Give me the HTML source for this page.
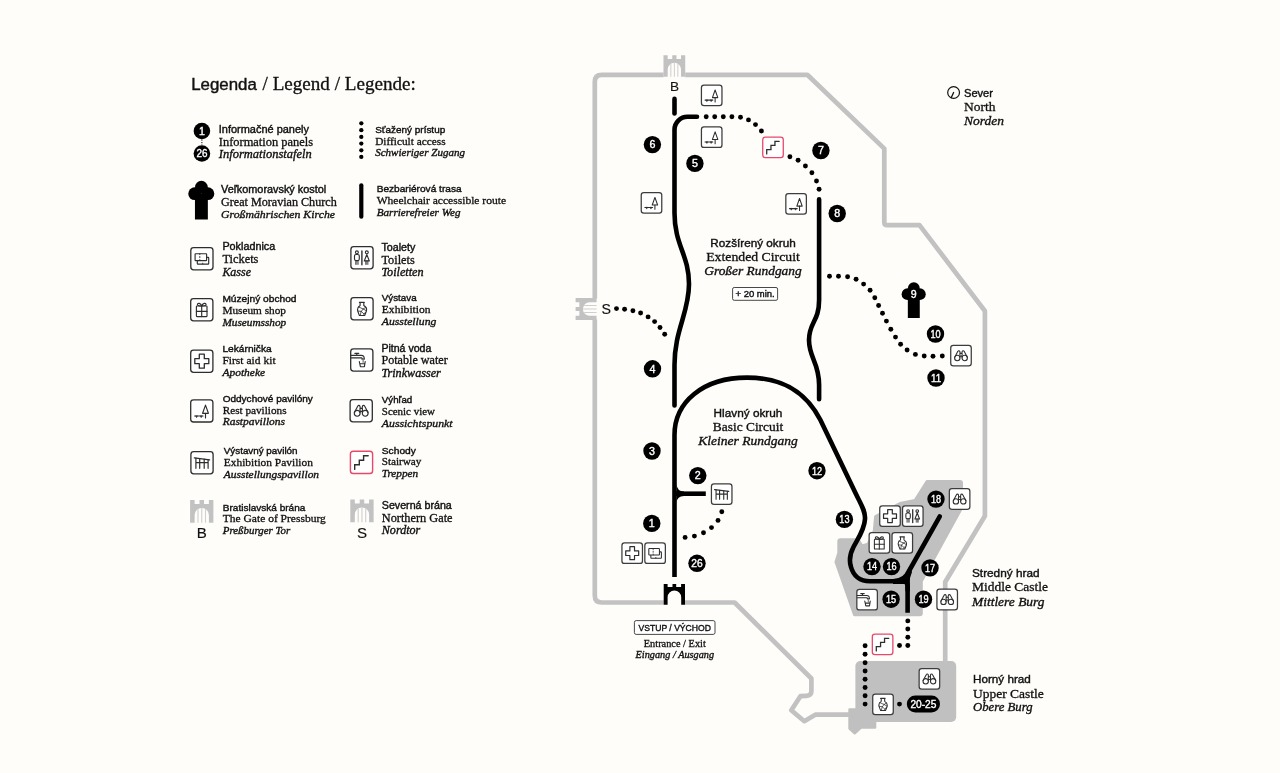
<!DOCTYPE html>
<html lang="sk"><head><meta charset="utf-8"><title>Mapa hradu – Legenda</title>
<style>
html,body{margin:0;padding:0;background:#fefdfa;}
body{width:1280px;height:773px;overflow:hidden;}
svg{display:block;will-change:transform;}
.sa{font-family:"Liberation Sans",Arial,sans-serif;fill:#111;stroke:#111;stroke-width:0.4px;paint-order:stroke;}
.se{font-family:"Liberation Serif","Times New Roman",serif;fill:#111;stroke:#111;stroke-width:0.3px;}
.it{font-style:italic;stroke-width:0.36px;}
.num{font-family:"Liberation Sans",Arial,sans-serif;fill:#fff;stroke:#fff;stroke-width:0.38px;text-anchor:middle;}
.route{fill:none;stroke:#000;stroke-width:4.6;stroke-linecap:round;stroke-linejoin:round;}
.wall{fill:none;stroke:#c2c2c2;stroke-width:4.7;stroke-linejoin:round;stroke-linecap:butt;}
.ic{fill:none;stroke:#2e2e2e;stroke-width:1.15;stroke-linecap:round;stroke-linejoin:round;}
.bx{fill:#fff;stroke:#2e2e2e;stroke-width:1.3;}
.bxm{fill:#fff;stroke:#3c3c3c;stroke-width:1.35;}
.bxr{fill:#fff;stroke:#e8486a;stroke-width:1.4;}
</style></head><body>
<svg width="1280" height="773" viewBox="0 0 1280 773">
<rect width="1280" height="773" fill="#fefdfa"/>
<defs>
<g id="box"><rect class="bx" x="-11.1" y="-11.1" width="22.2" height="22.2" rx="2.8"/></g>
<g id="boxm"><rect class="bxm" x="-11.1" y="-11.1" width="22.2" height="22.2" rx="2.8"/></g>
<g id="boxr"><rect class="bxr" x="-11.1" y="-11.1" width="22.2" height="22.2" rx="2.8"/></g>
<g id="i-tick" class="ic"><rect x="-4.6" y="-1.4" width="11.4" height="6.8" rx="0.6"/><rect x="-6.8" y="-5" width="11.5" height="6.9" rx="0.6" fill="#fff"/><path d="M-2.1,-5v1M-2.1,-2.2v1.2M-2.1,0.9v1M0.8,5.4v-0.9" stroke-width="0.9"/></g>
<g id="i-gift" class="ic"><rect x="-5.4" y="-3.8" width="10.6" height="10.6" rx="0.5"/><path d="M-0.1,-3.8V6.8M-5.4,1.6H5.2"/><path d="M-0.1,-3.8C-1,-6.9 -4.3,-7.2 -4.4,-5.2C-4.4,-3.9 -2,-3.8 -0.1,-3.8C1.8,-3.8 4.3,-3.9 4.3,-5.2C4.2,-7.2 0.8,-6.9 -0.1,-3.8Z"/></g>
<g id="i-aid" class="ic"><path stroke-width="1.3" d="M-2.5,-7H2.5V-2.5H7V2.5H2.5V7H-2.5V2.5H-7V-2.5H-2.5Z"/></g>
<g id="i-rest" class="ic"><path d="M3.7,-5.8L6.6,2.4H0.8Z"/><path d="M3.7,2.4V7"/><path d="M-7.2,5.1H1.2"/><path d="M-6,5.2L-5.2,6.8L-4.4,5.2Z M-1.4,5.2L-0.6,6.8L0.2,5.2Z" fill="#2e2e2e" stroke-width="0.6"/></g>
<g id="i-pav" class="ic"><path d="M-7.7,-4.9L7.6,-2.9" stroke-width="1.3"/><path d="M-6.1,-4.6V5.6M-2.3,-4.1V5.6M2.2,-3.5V5.6M6.1,-3V5.6M-6.1,0H6.1" stroke-width="1.2"/></g>
<g id="i-wc" class="ic"><path d="M-0.1,-6.9V6.9" stroke-width="1.4"/><circle cx="-5.1" cy="-5.5" r="1.45"/><rect x="-7.5" y="-3.3" width="4.8" height="6.1" rx="1.5"/><path d="M-6.3,2.8V6.6M-5.1,2.8V6.6M-3.9,2.8V6.6" stroke-width="0.8"/><circle cx="4.8" cy="-5.5" r="1.45"/><path d="M4.8,-3.3L7.3,3.1H2.3Z"/><path d="M3.7,3.1V6.6M4.8,3.1V6.6M5.9,3.1V6.6" stroke-width="0.8"/></g>
<g id="i-vase" class="ic"><path d="M-2.6,-6.4H2.3M-1.9,-6.4V-3.2C-3.8,-2 -4.6,-0.6 -4.5,1C-4.3,3.2 -3.3,4.6 -2.6,6.7H2.7C3.4,4.6 4.5,3.2 4.6,1C4.7,-0.6 3.9,-2 1.8,-3.2V-6.4"/><path d="M-3.6,-1.9L1.2,0.2L3.6,-1.4M1.2,0.2L-0.8,2.6L-4.1,2.2M-0.8,2.6L-1.8,6.6M-0.8,2.6L2,5.2L3.5,3.4M2,5.2L1.6,6.6M1.2,0.2L4.4,2" stroke-width="0.8"/></g>
<g id="i-water" class="ic"><path d="M-10.6,-4.6H-0.4C1.4,-4.6 2.4,-3.4 2.4,-1.6V-1"/><path d="M-10.6,-2.2H-0.2C0.2,-2.2 0.3,-1.8 0.3,-1"/><path d="M0.3,-1H2.4"/><path d="M-6.9,-6.6H-3.1M-5,-6.6V-4.6"/><path d="M1.3,0V2.4" stroke-width="0.8"/><path d="M-2.5,1.5L-1.4,6.7H2.6L3.4,1.5M-2,3.7H3"/></g>
<g id="i-bino" class="ic"><circle cx="-4" cy="2.6" r="2.9"/><circle cx="4" cy="2.6" r="2.9"/><path d="M-6.8,1.8L-3.4,-4.6C-3,-5.5 -1.6,-5.5 -1.3,-4.6L-0.9,-2.2M6.8,1.8L3.4,-4.6C3,-5.5 1.6,-5.5 1.3,-4.6L0.9,-2.2M-1.2,-2.4H1.2M-1.2,1.8V-2.4M1.2,1.8V-2.4M-1.2,0.6H1.2"/></g>
<g id="i-stairs" class="ic"><path d="M-6.8,7V2.3H-2.2V-2.1H2.1V-6.6H6.7" stroke-width="1.4" stroke-linejoin="miter"/></g>
<g id="gate"><path d="M0,0H4.5V4.1H9.4V0H13.9V4.1H18.8V0H23.3V22.8H18.8V15.1A7.15,7.15 0 0 0 4.5,15.1V22.8H0Z"/><path d="M7.9,9.3V22.8M11.65,8.2V22.8M15.4,9.3V22.8" fill="none" stroke-width="1.1" stroke="currentColor"/></g>
<g id="church"><rect x="-6.45" y="-26" width="12.9" height="26"/><circle cx="-6.75" cy="-25.8" r="6.4"/><circle cx="6.5" cy="-25.8" r="6.4"/><circle cx="0" cy="-32.3" r="6.4"/></g>
</defs>
<g id="legend">
<text x="191.2" y="89.7" class="sa" font-size="16.09" textLength="65.6" lengthAdjust="spacingAndGlyphs">Legenda</text>
<text x="262.6" y="89.7" class="se" font-size="18.23" textLength="153.2" lengthAdjust="spacingAndGlyphs">/ Legend / Legende:</text>
<path d="M201.9,139.5V145" stroke="#000" stroke-width="1" stroke-dasharray="1.2 1.3" fill="none"/>
<circle cx="201.9" cy="131" r="8.3" fill="#000"/><text class="num" x="201.9" y="134.8" font-size="10.6">1</text>
<circle cx="201.9" cy="153.5" r="8.3" fill="#000"/><text class="num" x="201.9" y="157.3" font-size="10.5" textLength="11" lengthAdjust="spacingAndGlyphs">26</text>
<text x="218.8" y="133.3" class="sa" font-size="10.47" textLength="90.2" lengthAdjust="spacingAndGlyphs">Informačné panely</text>
<text x="218.8" y="145.5" class="se" font-size="11.87" textLength="94.2" lengthAdjust="spacingAndGlyphs">Information panels</text>
<text x="218.8" y="157.9" class="se it" font-size="11.93" textLength="93.0" lengthAdjust="spacingAndGlyphs">Informationstafeln</text>
<use href="#church" x="201.4" y="219.5" fill="#000"/>
<text x="221.0" y="193.1" class="sa" font-size="10.37" textLength="105.2" lengthAdjust="spacingAndGlyphs">Veľkomoravský kostol</text>
<text x="221.0" y="205.7" class="se" font-size="11.57" textLength="115.7" lengthAdjust="spacingAndGlyphs">Great Moravian Church</text>
<text x="221.0" y="218.0" class="se it" font-size="11.25" textLength="114.0" lengthAdjust="spacingAndGlyphs">Großmährischen Kirche</text>
<circle cx="361.3" cy="123.3" r="2.15" fill="#000"/>
<circle cx="361.3" cy="130.2" r="2.15" fill="#000"/>
<circle cx="361.3" cy="136.9" r="2.15" fill="#000"/>
<circle cx="361.3" cy="143.6" r="2.15" fill="#000"/>
<circle cx="361.3" cy="150.3" r="2.15" fill="#000"/>
<circle cx="361.3" cy="156.9" r="2.15" fill="#000"/>
<text x="375.2" y="133.0" class="sa" font-size="9.49" textLength="70.0" lengthAdjust="spacingAndGlyphs">Sťažený prístup</text>
<text x="375.2" y="144.7" class="se" font-size="10.79" textLength="70.4" lengthAdjust="spacingAndGlyphs">Difficult access</text>
<text x="375.2" y="156.1" class="se it" font-size="10.54" textLength="89.8" lengthAdjust="spacingAndGlyphs">Schwieriger Zugang</text>
<path d="M361.3,185.3V216.7" stroke="#000" stroke-width="4.2" stroke-linecap="round" fill="none"/>
<text x="376.7" y="192.0" class="sa" font-size="9.66" textLength="84.9" lengthAdjust="spacingAndGlyphs">Bezbariérová trasa</text>
<text x="376.7" y="203.9" class="se" font-size="11.02" textLength="129.4" lengthAdjust="spacingAndGlyphs">Wheelchair accessible route</text>
<text x="376.7" y="215.5" class="se it" font-size="10.63" textLength="83.8" lengthAdjust="spacingAndGlyphs">Barrierefreier Weg</text>
<g transform="translate(201.9,258.7)"><use href="#box"/><use href="#i-tick"/></g>
<text x="222.4" y="250.2" class="sa" font-size="10.31" textLength="52.8" lengthAdjust="spacingAndGlyphs">Pokladnica</text>
<text x="222.4" y="263.0" class="se" font-size="11.82" textLength="36.0" lengthAdjust="spacingAndGlyphs">Tickets</text>
<text x="222.4" y="275.5" class="se it" font-size="11.43" textLength="28.6" lengthAdjust="spacingAndGlyphs">Kasse</text>
<g transform="translate(201.8,309.8)"><use href="#box"/><use href="#i-gift"/></g>
<text x="222.4" y="302.0" class="sa" font-size="9.72" textLength="74.1" lengthAdjust="spacingAndGlyphs">Múzejný obchod</text>
<text x="222.4" y="314.0" class="se" font-size="10.77" textLength="63.6" lengthAdjust="spacingAndGlyphs">Museum shop</text>
<text x="222.4" y="325.7" class="se it" font-size="10.75" textLength="63.8" lengthAdjust="spacingAndGlyphs">Museumsshop</text>
<g transform="translate(201.8,361.2)"><use href="#box"/><use href="#i-aid"/></g>
<text x="222.4" y="351.7" class="sa" font-size="9.74" textLength="49.3" lengthAdjust="spacingAndGlyphs">Lekárnička</text>
<text x="222.4" y="363.6" class="se" font-size="11.02" textLength="53.2" lengthAdjust="spacingAndGlyphs">First aid kit</text>
<text x="222.4" y="375.7" class="se it" font-size="10.96" textLength="42.7" lengthAdjust="spacingAndGlyphs">Apotheke</text>
<g transform="translate(201.8,410.9)"><use href="#box"/><use href="#i-rest"/></g>
<text x="222.7" y="402.0" class="sa" font-size="9.57" textLength="90.2" lengthAdjust="spacingAndGlyphs">Oddychové pavilóny</text>
<text x="222.7" y="413.7" class="se" font-size="10.7" textLength="63.8" lengthAdjust="spacingAndGlyphs">Rest pavilions</text>
<text x="222.7" y="425.1" class="se it" font-size="10.93" textLength="62.3" lengthAdjust="spacingAndGlyphs">Rastpavillons</text>
<g transform="translate(202.0,462.7)"><use href="#box"/><use href="#i-pav"/></g>
<text x="223.8" y="454.4" class="sa" font-size="9.38" textLength="73.7" lengthAdjust="spacingAndGlyphs">Výstavný pavilón</text>
<text x="223.8" y="466.2" class="se" font-size="10.9" textLength="89.1" lengthAdjust="spacingAndGlyphs">Exhibition Pavilion</text>
<text x="223.8" y="477.5" class="se it" font-size="10.92" textLength="95.3" lengthAdjust="spacingAndGlyphs">Ausstellungspavillon</text>
<use href="#gate" x="190.1" y="500" fill="#c2c2c2" color="#cfcfcf"/>
<text x="201.9" y="538.3" class="sa" font-size="15.1" text-anchor="middle" style="stroke-width:0.15px">B</text>
<text x="222.8" y="510.5" class="sa" font-size="9.58" textLength="82.5" lengthAdjust="spacingAndGlyphs">Bratislavská brána</text>
<text x="222.8" y="521.9" class="se" font-size="10.99" textLength="103.0" lengthAdjust="spacingAndGlyphs">The Gate of Pressburg</text>
<text x="222.8" y="534.0" class="se it" font-size="10.4" textLength="67.5" lengthAdjust="spacingAndGlyphs">Preßburger Tor</text>
<g transform="translate(362.0,257.8)"><use href="#box"/><use href="#i-wc"/></g>
<text x="381.4" y="251.3" class="sa" font-size="10.22" textLength="33.9" lengthAdjust="spacingAndGlyphs">Toalety</text>
<text x="381.4" y="263.8" class="se" font-size="11.78" textLength="33.4" lengthAdjust="spacingAndGlyphs">Toilets</text>
<text x="381.4" y="276.2" class="se it" font-size="11.64" textLength="42.2" lengthAdjust="spacingAndGlyphs">Toiletten</text>
<g transform="translate(362.0,308.8)"><use href="#box"/><use href="#i-vase"/></g>
<text x="381.8" y="301.1" class="sa" font-size="9.34" textLength="34.8" lengthAdjust="spacingAndGlyphs">Výstava</text>
<text x="381.8" y="313.2" class="se" font-size="11.04" textLength="48.8" lengthAdjust="spacingAndGlyphs">Exhibition</text>
<text x="381.8" y="324.6" class="se it" font-size="11.17" textLength="54.6" lengthAdjust="spacingAndGlyphs">Ausstellung</text>
<g transform="translate(361.8,360.0)"><use href="#box"/><use href="#i-water"/></g>
<text x="381.4" y="352.1" class="sa" font-size="10.11" textLength="50.0" lengthAdjust="spacingAndGlyphs">Pitná voda</text>
<text x="381.4" y="364.2" class="se" font-size="11.59" textLength="66.4" lengthAdjust="spacingAndGlyphs">Potable water</text>
<text x="381.4" y="376.8" class="se it" font-size="11.6" textLength="59.4" lengthAdjust="spacingAndGlyphs">Trinkwasser</text>
<g transform="translate(361.2,410.7)"><use href="#box"/><use href="#i-bino"/></g>
<text x="381.8" y="403.1" class="sa" font-size="9.28" textLength="30.4" lengthAdjust="spacingAndGlyphs">Výhľad</text>
<text x="381.8" y="414.8" class="se" font-size="10.45" textLength="53.2" lengthAdjust="spacingAndGlyphs">Scenic view</text>
<text x="381.8" y="426.6" class="se it" font-size="11.27" textLength="70.8" lengthAdjust="spacingAndGlyphs">Aussichtspunkt</text>
<g transform="translate(361.5,462.4)"><use href="#boxr"/><use href="#i-stairs"/></g>
<text x="381.8" y="453.7" class="sa" font-size="9.76" textLength="34.1" lengthAdjust="spacingAndGlyphs">Schody</text>
<text x="381.8" y="465.4" class="se" font-size="10.64" textLength="39.6" lengthAdjust="spacingAndGlyphs">Stairway</text>
<text x="381.8" y="476.8" class="se it" font-size="10.7" textLength="36.3" lengthAdjust="spacingAndGlyphs">Treppen</text>
<use href="#gate" x="350.3" y="499.5" fill="#c2c2c2" color="#cfcfcf"/>
<text x="362.0" y="537.6" class="sa" font-size="15.1" text-anchor="middle" style="stroke-width:0.15px">S</text>
<text x="381.8" y="509.4" class="sa" font-size="10.19" textLength="70.0" lengthAdjust="spacingAndGlyphs">Severná brána</text>
<text x="381.8" y="521.5" class="se" font-size="11.76" textLength="70.8" lengthAdjust="spacingAndGlyphs">Northern Gate</text>
<text x="381.8" y="534.0" class="se it" font-size="11.54" textLength="38.5" lengthAdjust="spacingAndGlyphs">Nordtor</text>
</g>
<g id="map">
<path fill="#c0c0c0" stroke="#c0c0c0" stroke-width="3" stroke-linejoin="round" d="M927,481.5H960Q961.5,481.5 961.5,483V508L921.3,581.4V613Q921.3,614.7 919.8,614.7H854.5L836,562L838.8,553V541.5Q838.8,539.8 840.5,539.8H858L862,546L868,544.3L874.3,531L875.6,516.5L900,503.5L915,500.5Z"/>
<rect x="855.4" y="661" width="100.8" height="61" rx="5" fill="#c0c0c0"/>
<path fill="#c0c0c0" stroke="#c0c0c0" stroke-width="2.4" stroke-linejoin="round" d="M849.5,709.4H875.1V727.5H861L854.7,733.3L849.5,728.6Z"/>
<path class="wall" d="M663.6,74.8H601.8Q594.8,74.8 594.8,81.8V298.5M594.8,319.5V595.5Q594.8,602.5 601.8,602.5H663.8M685,602.5H734.6L811.4,678.5V691Q811.4,695.6 806.5,695.8L800.4,696.2L791.3,710.2L804.3,721.2L815.3,714.7H849"/>
<path class="wall" d="M685.2,74.8H807.3L884.3,148.6V222.2Q884.3,225.2 887.3,225.2H919.5L984.9,311V516L945.2,582V662"/>
<g transform="translate(663.5,55.2) scale(0.932,0.947)"><use href="#gate" fill="#c2c2c2" color="#cfcfcf"/></g>
<g transform="translate(575.6,319.9) rotate(-90) scale(0.935,0.92)"><use href="#gate" fill="#c2c2c2" color="#cfcfcf"/></g>
<path fill="#000" d="M663.7,583.9H667.6V587.1H672.5V583.9H676.2V587.1H681.1V583.9H685V604.8H681.2V597.2A6.8,6.8 0 0 0 667.6,597.2V604.8H663.7Z"/>
<text x="674.5" y="91.2" class="sa" font-size="13.6" text-anchor="middle" style="stroke-width:0.15px">B</text>
<text x="606.2" y="314.2" class="sa" font-size="14.2" text-anchor="middle" style="stroke-width:0.15px">S</text>
<path class="route" d="M674.5,98.9V113.4"/>
<path class="route" d="M697,116.7H687.5A13,13 0 0 0 674.5,129.7V213C674.5,245 689,255 689,284C689,313 674.5,330 674.5,365V405.4"/>
<path class="route" d="M819.1,199.3V300C819.1,322 809,322 809,340C809,358 819.1,362 819.1,385V399.2"/>
<path class="route" style="stroke-linecap:butt" d="M674.5,577V435C674.5,402 703,377.6 747,377.6C783,377.6 806,392 820.3,419.8L856.2,494.5C861,504.5 865.5,511 865,519C864.4,530 858,538.5 853.5,547C850.5,552.7 848.8,560 851,567C853.5,576 860,581.2 870,581.2H902.6Q907.6,581.2 907.6,586.2V612.8"/>
<path class="route" d="M907.6,590V573.5L939.8,516.4"/>
<path fill="#000" d="M893,579Q904,579 909.6,566.3L912,572L908,584H893Z"/>
<path class="route" style="stroke-linecap:butt" d="M674.5,493.7H705.8"/>
<path fill="#000" d="M676.6,484.6Q677,491.4 684,491.4V496Q677,496 676.6,502.8Z"/>
<g fill="#000"><circle cx="706.2" cy="116.7" r="2.45"/><circle cx="714.7" cy="116.7" r="2.45"/><circle cx="723.3" cy="116.7" r="2.45"/><circle cx="731.9" cy="116.8" r="2.45"/><circle cx="740.5" cy="117.3" r="2.45"/><circle cx="748.5" cy="119.9" r="2.45"/><circle cx="755.5" cy="124.6" r="2.45"/><circle cx="761.4" cy="131.0" r="2.45"/><circle cx="789.9" cy="156.7" r="2.45"/><circle cx="798.1" cy="160.3" r="2.45"/><circle cx="805.4" cy="166.0" r="2.45"/><circle cx="811.9" cy="172.7" r="2.45"/><circle cx="816.5" cy="181.0" r="2.45"/><circle cx="819.1" cy="189.3" r="2.45"/><circle cx="616.5" cy="308.6" r="2.45"/><circle cx="624.6" cy="309.2" r="2.45"/><circle cx="632.9" cy="310.7" r="2.45"/><circle cx="640.6" cy="313.0" r="2.45"/><circle cx="648.1" cy="316.9" r="2.45"/><circle cx="654.6" cy="321.6" r="2.45"/><circle cx="660.0" cy="327.5" r="2.45"/><circle cx="664.7" cy="334.2" r="2.45"/><circle cx="829.5" cy="276.3" r="2.45"/><circle cx="838.5" cy="276.3" r="2.45"/><circle cx="847.6" cy="276.8" r="2.45"/><circle cx="856.1" cy="279.2" r="2.45"/><circle cx="863.6" cy="284.1" r="2.45"/><circle cx="870.1" cy="290.3" r="2.45"/><circle cx="874.8" cy="297.8" r="2.45"/><circle cx="878.6" cy="305.5" r="2.45"/><circle cx="882.5" cy="313.3" r="2.45"/><circle cx="886.4" cy="321.1" r="2.45"/><circle cx="890.8" cy="329.3" r="2.45"/><circle cx="895.5" cy="337.1" r="2.45"/><circle cx="900.6" cy="344.3" r="2.45"/><circle cx="907.1" cy="350.0" r="2.45"/><circle cx="915.4" cy="354.4" r="2.45"/><circle cx="924.2" cy="356.0" r="2.45"/><circle cx="933.0" cy="356.2" r="2.45"/><circle cx="942.3" cy="356.0" r="2.45"/><circle cx="721.8" cy="511.8" r="2.45"/><circle cx="718.0" cy="520.4" r="2.45"/><circle cx="711.5" cy="527.6" r="2.45"/><circle cx="703.5" cy="532.8" r="2.45"/><circle cx="694.4" cy="536.1" r="2.45"/><circle cx="685.1" cy="537.4" r="2.45"/><circle cx="907.8" cy="620.9" r="2.45"/><circle cx="907.8" cy="629.0" r="2.45"/><circle cx="907.8" cy="637.3" r="2.45"/><circle cx="907.8" cy="645.5" r="2.45"/><circle cx="899.5" cy="645.5" r="2.45"/><circle cx="865.1" cy="645.8" r="2.45"/><circle cx="865.1" cy="654.3" r="2.45"/><circle cx="865.1" cy="662.7" r="2.45"/><circle cx="865.1" cy="671.0" r="2.45"/><circle cx="865.1" cy="679.2" r="2.45"/><circle cx="865.1" cy="687.5" r="2.45"/><circle cx="865.1" cy="695.8" r="2.45"/><circle cx="865.1" cy="704.1" r="2.45"/><circle cx="899.5" cy="704.1" r="2.45"/></g>
<g transform="translate(913.8,318) scale(0.925)"><use href="#church" fill="#000"/></g>
<text class="num" x="913.8" y="298.1" font-size="10.6">9</text>
<circle cx="651.8" cy="523.4" r="8.7" fill="#000"/>
<text class="num" x="651.8" y="527.2" font-size="10.7">1</text>
<circle cx="697.8" cy="475.6" r="8.7" fill="#000"/>
<text class="num" x="697.8" y="479.4" font-size="10.7">2</text>
<circle cx="652.0" cy="451.0" r="8.7" fill="#000"/>
<text class="num" x="652.0" y="454.8" font-size="10.7">3</text>
<circle cx="652.5" cy="368.8" r="8.7" fill="#000"/>
<text class="num" x="652.5" y="372.6" font-size="10.7">4</text>
<circle cx="694.9" cy="163.4" r="8.7" fill="#000"/>
<text class="num" x="694.9" y="167.2" font-size="10.7">5</text>
<circle cx="652.4" cy="144.6" r="8.7" fill="#000"/>
<text class="num" x="652.4" y="148.4" font-size="10.7">6</text>
<circle cx="820.9" cy="150.5" r="8.7" fill="#000"/>
<text class="num" x="820.9" y="154.3" font-size="10.7">7</text>
<circle cx="837.2" cy="213.5" r="8.7" fill="#000"/>
<text class="num" x="837.2" y="217.3" font-size="10.7">8</text>
<circle cx="935.5" cy="334.0" r="8.7" fill="#000"/>
<text class="num" x="935.5" y="337.8" font-size="10.6" textLength="10.2" lengthAdjust="spacingAndGlyphs">10</text>
<circle cx="936.0" cy="378.0" r="8.7" fill="#000"/>
<text class="num" x="936.0" y="381.8" font-size="10.6" textLength="10.2" lengthAdjust="spacingAndGlyphs">11</text>
<circle cx="817.0" cy="470.7" r="8.7" fill="#000"/>
<text class="num" x="817.0" y="474.5" font-size="10.6" textLength="10.2" lengthAdjust="spacingAndGlyphs">12</text>
<circle cx="844.4" cy="519.4" r="8.7" fill="#000"/>
<text class="num" x="844.4" y="523.2" font-size="10.6" textLength="10.2" lengthAdjust="spacingAndGlyphs">13</text>
<circle cx="872.0" cy="566.6" r="8.7" fill="#000"/>
<text class="num" x="872.0" y="570.4" font-size="10.6" textLength="10.2" lengthAdjust="spacingAndGlyphs">14</text>
<circle cx="891.1" cy="599.2" r="8.7" fill="#000"/>
<text class="num" x="891.1" y="603.0" font-size="10.6" textLength="10.2" lengthAdjust="spacingAndGlyphs">15</text>
<circle cx="891.5" cy="566.6" r="8.7" fill="#000"/>
<text class="num" x="891.5" y="570.4" font-size="10.6" textLength="10.2" lengthAdjust="spacingAndGlyphs">16</text>
<circle cx="930.0" cy="567.9" r="8.7" fill="#000"/>
<text class="num" x="930.0" y="571.7" font-size="10.6" textLength="10.2" lengthAdjust="spacingAndGlyphs">17</text>
<circle cx="936.0" cy="499.1" r="8.7" fill="#000"/>
<text class="num" x="936.0" y="502.9" font-size="10.6" textLength="10.2" lengthAdjust="spacingAndGlyphs">18</text>
<circle cx="923.5" cy="599.2" r="8.7" fill="#000"/>
<text class="num" x="923.5" y="603.0" font-size="10.6" textLength="10.2" lengthAdjust="spacingAndGlyphs">19</text>
<circle cx="697.0" cy="563.3" r="8.7" fill="#000"/>
<text class="num" x="697.0" y="567.1" font-size="10.6" textLength="11.4" lengthAdjust="spacingAndGlyphs">26</text>
<rect x="906.8" y="695.5" width="33.2" height="17" rx="8.5" fill="#000"/>
<text class="num" x="923.4" y="707.8" font-size="10.6" textLength="26" lengthAdjust="spacingAndGlyphs">20-25</text>
<g transform="translate(711.7,95.4) scale(0.925)"><use href="#boxm"/><use href="#i-rest"/></g>
<g transform="translate(711.7,137.2) scale(0.925)"><use href="#boxm"/><use href="#i-rest"/></g>
<g transform="translate(651.5,202.8) scale(0.925)"><use href="#boxm"/><use href="#i-rest"/></g>
<g transform="translate(796.1,203.9) scale(0.925)"><use href="#boxm"/><use href="#i-rest"/></g>
<g transform="translate(773.0,147.4) scale(0.925)"><use href="#boxr"/><use href="#i-stairs"/></g>
<g transform="translate(882.6,644.4) scale(0.925)"><use href="#boxr"/><use href="#i-stairs"/></g>
<g transform="translate(961.0,355.6) scale(0.925)"><use href="#boxm"/><use href="#i-bino"/></g>
<g transform="translate(959.6,499.0) scale(0.925)"><use href="#boxm"/><use href="#i-bino"/></g>
<g transform="translate(947.2,599.5) scale(0.925)"><use href="#boxm"/><use href="#i-bino"/></g>
<g transform="translate(929.4,678.9) scale(0.925)"><use href="#boxm"/><use href="#i-bino"/></g>
<g transform="translate(721.7,494.1) scale(0.925)"><use href="#boxm"/><use href="#i-pav"/></g>
<g transform="translate(632.2,553.2) scale(0.925)"><use href="#boxm"/><use href="#i-aid"/></g>
<g transform="translate(890.0,516.1) scale(0.925)"><use href="#boxm"/><use href="#i-aid"/></g>
<g transform="translate(655.1,553.2) scale(0.925)"><use href="#boxm"/><use href="#i-tick"/></g>
<g transform="translate(912.8,516.1) scale(0.925)"><use href="#boxm"/><use href="#i-wc"/></g>
<g transform="translate(879.4,542.8) scale(0.925)"><use href="#boxm"/><use href="#i-gift"/></g>
<g transform="translate(902.3,542.8) scale(0.925)"><use href="#boxm"/><use href="#i-vase"/></g>
<g transform="translate(883.0,704.3) scale(0.925)"><use href="#boxm"/><use href="#i-vase"/></g>
<g transform="translate(867.1,599.7) scale(0.925)"><use href="#boxm"/><use href="#i-water"/></g>
<text x="753.0" y="246.6" class="sa" font-size="11.2" textLength="85.4" lengthAdjust="spacingAndGlyphs" text-anchor="middle">Rozšírený okruh</text>
<text x="753.0" y="260.8" class="se" font-size="13.14" textLength="93.6" lengthAdjust="spacingAndGlyphs" text-anchor="middle">Extended Circuit</text>
<text x="753.0" y="275.0" class="se it" font-size="12.81" textLength="97.5" lengthAdjust="spacingAndGlyphs" text-anchor="middle">Großer Rundgang</text>
<rect x="732.6" y="287.5" width="45" height="12.8" rx="1.6" fill="#fff" stroke="#333" stroke-width="0.9"/>
<text x="755.1" y="297.4" class="sa" font-size="9.3" textLength="39.2" lengthAdjust="spacingAndGlyphs" text-anchor="middle">+ 20 min.</text>
<text x="748.0" y="417.0" class="sa" font-size="11.26" textLength="68.8" lengthAdjust="spacingAndGlyphs" text-anchor="middle">Hlavný okruh</text>
<text x="748.0" y="431.0" class="se" font-size="12.81" textLength="70.4" lengthAdjust="spacingAndGlyphs" text-anchor="middle">Basic Circuit</text>
<text x="748.0" y="445.4" class="se it" font-size="12.92" textLength="99.6" lengthAdjust="spacingAndGlyphs" text-anchor="middle">Kleiner Rundgang</text>
<text x="973.0" y="683.0" class="sa" font-size="11.16" textLength="57.8" lengthAdjust="spacingAndGlyphs">Horný hrad</text>
<text x="973.0" y="697.5" class="se" font-size="12.88" textLength="70.8" lengthAdjust="spacingAndGlyphs">Upper Castle</text>
<text x="973.0" y="711.3" class="se it" font-size="12.15" textLength="59.5" lengthAdjust="spacingAndGlyphs">Obere Burg</text>
<text x="972.0" y="577.0" class="sa" font-size="11.26" textLength="67.5" lengthAdjust="spacingAndGlyphs">Stredný hrad</text>
<text x="972.0" y="591.2" class="se" font-size="12.87" textLength="76.0" lengthAdjust="spacingAndGlyphs">Middle Castle</text>
<text x="972.0" y="605.5" class="se it" font-size="12.83" textLength="72.5" lengthAdjust="spacingAndGlyphs">Mittlere Burg</text>
<rect x="634.4" y="620.6" width="80.6" height="13.8" rx="1.8" fill="#fff" stroke="#333" stroke-width="0.9"/>
<text x="674.7" y="630.8" class="sa" font-size="9.5" textLength="72.4" lengthAdjust="spacingAndGlyphs" text-anchor="middle">VSTUP / VÝCHOD</text>
<text x="674.8" y="647.0" class="se" font-size="10.4" textLength="62.0" lengthAdjust="spacingAndGlyphs" text-anchor="middle">Entrance / Exit</text>
<text x="674.8" y="657.8" class="se it" font-size="10.4" textLength="78.6" lengthAdjust="spacingAndGlyphs" text-anchor="middle">Eingang / Ausgang</text>
<circle cx="953.6" cy="92.5" r="5.9" fill="none" stroke="#111" stroke-width="1.2"/><path d="M953.6,92.5L951.3,97.6" stroke="#111" stroke-width="1.3" stroke-linecap="round"/>
<text x="964.0" y="96.9" class="sa" font-size="11.1">Sever</text>
<text x="964.0" y="111.0" class="se" font-size="13.5">North</text>
<text x="964.0" y="124.8" class="se it" font-size="13.5">Norden</text>
</g>
</svg></body></html>
